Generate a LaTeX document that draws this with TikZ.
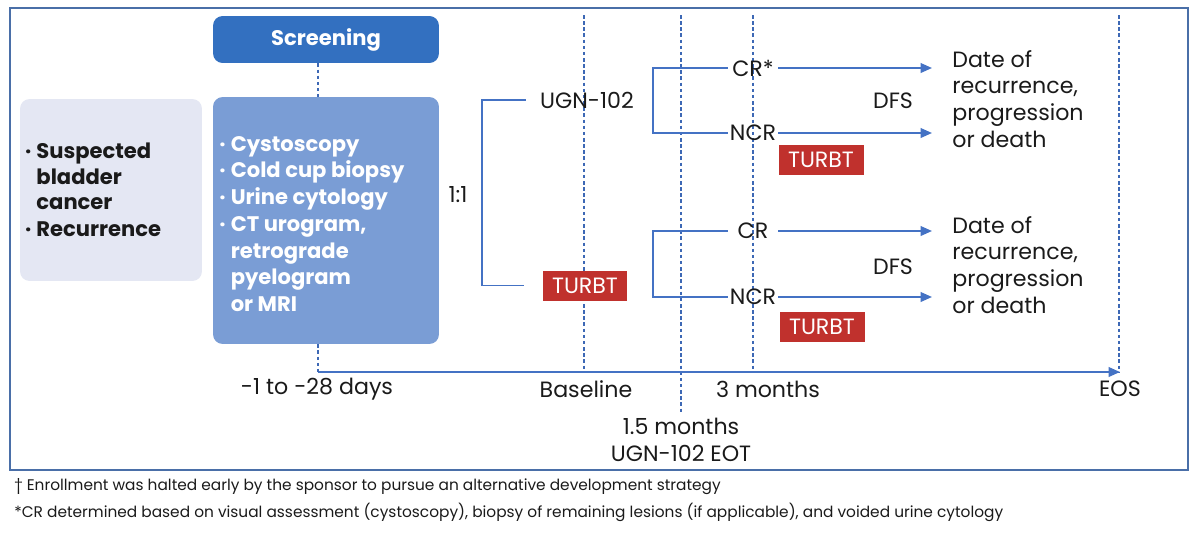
\documentclass[tikz,border=0pt]{standalone}
\usepackage{fontspec}
\setmainfont{Poppins}
\usetikzlibrary{arrows.meta}
\definecolor{frameblue}{HTML}{4A6FA8}
\definecolor{lineblue}{HTML}{4472C4}
\definecolor{dashblue}{HTML}{3D68B5}
\definecolor{scrdark}{HTML}{3370C0}
\definecolor{scrlight}{HTML}{7A9DD5}
\definecolor{palebox}{HTML}{E4E7F3}
\definecolor{turbtred}{HTML}{C0312D}
\definecolor{ink}{HTML}{1A1A1A}
\newcommand\bul{\makebox[6.5pt][l]{·}}
\newcommand\ind{\hspace*{6.5pt}}
\begin{document}
\begin{tikzpicture}[x=0.02cm,y=-0.02cm,font=\fontsize{12.6}{15.3}\selectfont,text=ink]
	\tikzset{
		sbox/.style={rounded corners=5.5pt, inner sep=0pt, text=white, font=\fontsize{12}{15.2}\selectfont\bfseries},
		lbl/.style={inner sep=0pt},
		resp/.style={inner sep=0pt, minimum width=1cm},
		redbox/.style={fill=turbtred, text=white, inner sep=0pt, minimum width=1.7cm, minimum height=0.6cm},
		link/.style={draw=lineblue, line width=1.1pt},
		arr/.style={link, -{Triangle[length=6.5pt,width=5.5pt]}},
		tick/.style={draw=dashblue, line width=0.8pt, dash pattern=on 2pt off 1.5pt},
		fnote/.style={inner sep=0pt, anchor=west, font=\fontsize{8.75}{10}\selectfont}
	}
	\useasboundingbox (0,0) rectangle (1200,538);
	\draw[frameblue, line width=1.2pt] (10,8) rectangle (1188,470);
	% timeline
	\coordinate (t0) at (318,372);
	\coordinate (tE) at (1120,372);
	\foreach \x in {584,753,1119}{\draw[tick] (\x,15) -- (\x,372);}
	\draw[tick] (681,15) -- (681,412);
	\draw[link, -{Triangle[length=6.5pt,width=5.5pt]}] (t0) -- (tE);
	\node[lbl] (days) at (317,389) {-1 to -28 days};
	\node[lbl] (base) at (586,389) {Baseline};
	\node[lbl] (three) at (768,389) {3 months};
	\node[lbl] (eos) at (1120,389) {EOS};
	\node[lbl, align=center] (mid) at (681,440) {1.5 months\\UGN-102 EOT};
	% boxes
	\node[sbox, fill=scrdark, minimum width=4.52cm, minimum height=0.94cm] (screen) at (326,39.5) {Screening};
	\node[sbox, fill=scrlight, minimum width=4.52cm, minimum height=4.94cm] (tests) at (326,220.5) {};
	\node[lbl, anchor=west, align=left, text=white, font=\fontsize{12}{15.2}\selectfont\bfseries] (testlist) at (219,224)
		{\bul Cystoscopy\\\bul Cold cup biopsy\\\bul Urine cytology\\\bul CT urogram,\\\ind retrograde\\\ind pyelogram\\\ind or MRI};
	\node[sbox, fill=palebox, text=ink, text width=3.44cm, inner xsep=0.1cm, minimum height=3.64cm, align=left, font=\fontsize{12}{14.4}\selectfont\bfseries] (pop) at (111,190)
		{\bul Suspected\\\ind bladder\\\ind cancer\\[1pt]\bul Recurrence};
	\draw[tick] (screen.south -| t0) -- (tests.north -| t0);
	\draw[tick] (tests.south -| t0) -- (t0);
	% randomisation
	\node[lbl] (ugn) at (587,100) {UGN-102};
	\node[redbox] (turbtA) at (585,285.5) {TURBT};
	\node[lbl] (ratio) at (458,195) {1:1};
	\draw[link] ([xshift=-0.28cm]ugn.west) -- (482,100) |- ([xshift=-0.36cm]turbtA.west);
	% responses
	\node[resp] (crA) at (753,68) {CR*};
	\node[resp] (ncrA) at (753,133) {NCR};
	\node[resp] (crB) at (753,231) {CR};
	\node[resp] (ncrB) at (753,297) {NCR};
	\node[redbox] (turbtB) at (821,160) {TURBT};
	\node[redbox] (turbtC) at (822,327) {TURBT};
	\draw[link] (crA.west) -- ++(-75,0) |- (ncrA.west);
	\draw[link] (crB.west) -- ++(-75,0) |- (ncrB.west);
	\node[lbl, anchor=west, align=left] (dateA) at (952,99) {Date of\\recurrence,\\progression\\or death};
	\node[lbl, anchor=west, align=left] (dateB) at (952,265) {Date of\\recurrence,\\progression\\or death};
	\node[lbl] (dfsA) at (893,101) {DFS};
	\node[lbl] (dfsB) at (893,267) {DFS};
	\foreach \r/\d in {crA/dateA,ncrA/dateA,crB/dateB,ncrB/dateB}{\draw[arr, shorten >=0.4cm] (\r.east) -- (\r -| \d.west);}
	% notes
	\node[fnote] (noteA) at (14,487) {† Enrollment was halted early by the sponsor to pursue an alternative development strategy};
	\node[fnote] (noteB) at (14,512) {*CR determined based on visual assessment (cystoscopy), biopsy of remaining lesions (if applicable), and voided urine cytology};
\end{tikzpicture}
\end{document}
